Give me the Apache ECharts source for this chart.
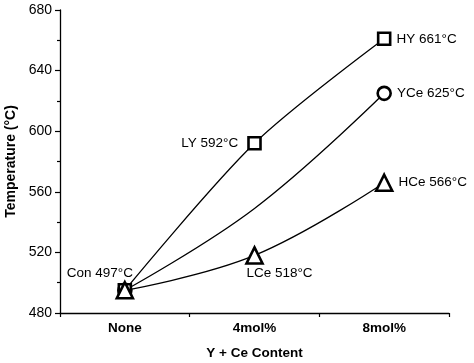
<!DOCTYPE html>
<html><head><meta charset="utf-8">
<script src="https://cdn.jsdelivr.net/npm/echarts@6/dist/echarts.min.js"></script>
<style>html,body{margin:0;padding:0;background:#fff}#c{width:474px;height:363px}</style>
</head><body><div id="c"></div>
<script>
var categories = ['None', '4mol%', '8mol%'];
var yTicks = [480, 520, 560, 600, 640, 680];
// Series values
var ySeries = [495, 592, 661];          // square markers (LY, HY)
var yceSeries = [495, 549, 625];        // circle markers (YCe), no marker at 4mol%
var ceSeries = [495, 518, 566];         // triangle markers (LCe, HCe)
var ySeriesLabels = ['', 'LY 592°C', 'HY 661°C'];
var yceSeriesLabels = ['', '', 'YCe 625°C'];
var ceSeriesLabels = ['Con 497°C', 'LCe 518°C', 'HCe 566°C'];

var FONT = 'Liberation Sans, Arial, sans-serif';
var labelBase = {show: true, color: '#000', fontSize: 13.5, fontFamily: FONT};

function build(values, texts, conf) {
  return values.map(function (v, i) {
    var item = {value: v};
    var c = conf[i] || {};
    if (texts[i]) {
      item.label = Object.assign({}, labelBase, {formatter: texts[i]}, c.label || {});
    } else {
      item.label = {show: false};
    }
    if (c.hide) { item.symbol = 'none'; }
    return item;
  });
}

var chart = echarts.init(document.getElementById('c'), null, {renderer: 'canvas'});
var lineStyle = {color: '#000', width: 1.3};
var itemStyle = {color: '#fff', borderColor: '#000', borderWidth: 2.6};

chart.setOption({
  animation: false,
  backgroundColor: '#fff',
  grid: {left: 60, right: 25, top: 10, bottom: 50, containLabel: false, outerBoundsMode: 'none'},
  xAxis: [{
    type: 'category', data: categories, boundaryGap: true,
    name: 'Y + Ce Content', nameLocation: 'middle', nameGap: 33,
    nameTextStyle: {color: '#000', fontSize: 13.5, fontWeight: 'bold', fontFamily: FONT},
    axisLine: {lineStyle: {color: '#000', width: 1.3}},
    axisTick: {alignWithLabel: true, length: 6, lineStyle: {color: '#000', width: 1.2}},
    axisLabel: {color: '#000', fontSize: 13.5, fontWeight: 'bold', fontFamily: FONT, margin: 8},
    splitLine: {show: false}
  }, {
    type: 'category', data: categories, boundaryGap: true, position: 'bottom',
    axisLine: {show: false},
    axisTick: {show: true, length: 4, lineStyle: {color: '#000', width: 1.2}},
    axisLabel: {show: false}, splitLine: {show: false}
  }],
  yAxis: {
    type: 'value', min: yTicks[0], max: yTicks[yTicks.length - 1], interval: 40,
    name: 'Temperature (°C)', nameLocation: 'middle', nameGap: 38,
    nameTextStyle: {color: '#000', fontSize: 14, fontWeight: 'bold', fontFamily: FONT},
    axisLine: {show: true, lineStyle: {color: '#000', width: 1.3}},
    axisTick: {show: true, length: 5, lineStyle: {color: '#000', width: 1.2}},
    minorTick: {show: true, splitNumber: 2, length: 3, lineStyle: {color: '#000', width: 1.2}},
    axisLabel: {color: '#000', fontSize: 14, fontFamily: FONT, margin: 8},
    splitLine: {show: false}
  },
  series: [{
    type: 'line', smooth: 0.4, symbol: 'circle', symbolSize: 13, showAllSymbol: true,
    lineStyle: lineStyle, itemStyle: itemStyle, z: 3,
    data: build(yceSeries, yceSeriesLabels, [{}, {hide: true}, {label: {position: 'right'}}])
  }, {
    type: 'line', smooth: 0.3, symbol: 'rect', symbolSize: 12, showAllSymbol: true,
    lineStyle: lineStyle, itemStyle: itemStyle, z: 4,
    data: build(ySeries, ySeriesLabels, [{}, {label: {position: 'left', offset: [-4, 0]}}, {label: {position: 'right'}}])
  }, {
    type: 'line', smooth: 0.4, symbol: 'triangle', symbolSize: 16, showAllSymbol: true,
    lineStyle: lineStyle, itemStyle: itemStyle, z: 5,
    data: build(ceSeries, ceSeriesLabels, [
      {label: {position: 'top', offset: [-25, 4]}},
      {label: {position: 'bottom', offset: [25, -3]}},
      {label: {position: 'right'}}])
  }]
});
</script>
</body></html>
